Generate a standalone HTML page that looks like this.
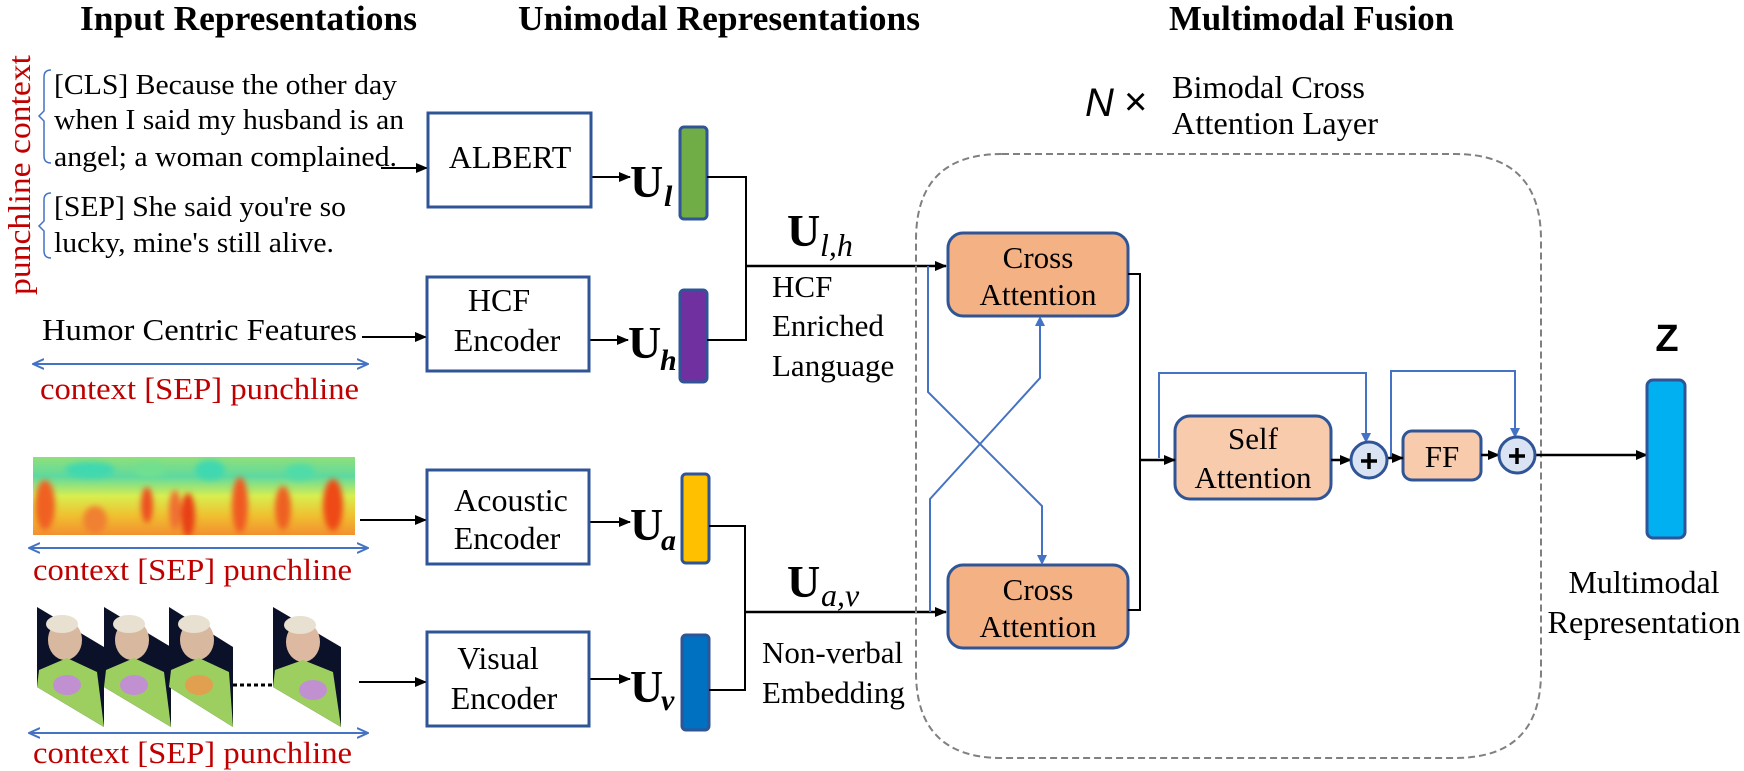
<!DOCTYPE html>
<html><head><meta charset="utf-8"><style>
html,body{margin:0;padding:0;background:#fff;}
svg{display:block;}
text{font-family:"Liberation Serif",serif;fill:#000;}
</style></head><body>
<svg width="1744" height="771" viewBox="0 0 1744 771" xmlns="http://www.w3.org/2000/svg">
<defs>
<marker id="ab" markerWidth="12" markerHeight="10" refX="11" refY="5" orient="auto" markerUnits="userSpaceOnUse"><path d="M0,0 L12,5 L0,10 z" fill="#000"/></marker>
<marker id="au" markerWidth="10" markerHeight="10" refX="9" refY="5" orient="auto" markerUnits="userSpaceOnUse"><path d="M0,0 L10,5 L0,10 z" fill="#4472C4"/></marker>
<marker id="aul" markerWidth="12" markerHeight="12" refX="1" refY="6" orient="auto" markerUnits="userSpaceOnUse"><path d="M12,1 L1,6 L12,11" fill="none" stroke="#4472C4" stroke-width="2"/></marker>
<marker id="aur" markerWidth="12" markerHeight="12" refX="11" refY="6" orient="auto" markerUnits="userSpaceOnUse"><path d="M0,1 L11,6 L0,11" fill="none" stroke="#4472C4" stroke-width="2"/></marker>
<linearGradient id="spec" x1="0" y1="0" x2="0" y2="1">
<stop offset="0" stop-color="#8fe07a"/><stop offset="0.25" stop-color="#5ed9a0"/><stop offset="0.5" stop-color="#d8ee50"/><stop offset="0.75" stop-color="#f0c030"/><stop offset="1" stop-color="#f29030"/></linearGradient>
<filter id="bl"><feGaussianBlur stdDeviation="3"/></filter>
<clipPath id="sc"><rect x="33" y="457" width="322" height="78"/></clipPath>
</defs>

<!-- titles -->
<text x="80" y="30" font-size="35" font-weight="bold" textLength="337" lengthAdjust="spacingAndGlyphs">Input Representations</text>
<text x="518" y="30" font-size="35" font-weight="bold" textLength="402" lengthAdjust="spacingAndGlyphs">Unimodal Representations</text>
<text x="1169" y="30" font-size="35" font-weight="bold" textLength="285" lengthAdjust="spacingAndGlyphs">Multimodal Fusion</text>

<!-- vertical label -->
<text transform="translate(30,295) rotate(-90)" x="0" y="0" font-size="32" fill="#C00000" style="fill:#C00000" textLength="240" lengthAdjust="spacingAndGlyphs">punchline  context</text>

<!-- braces -->
<path d="M51,70 Q44,70 44,77 L44,111 L39,116 L44,121 L44,156 Q44,163 51,163" fill="none" stroke="#4472C4" stroke-width="1.5"/>
<path d="M51,193 Q44,193 44,200 L44,221 L39,226 L44,231 L44,251 Q44,258 51,258" fill="none" stroke="#4472C4" stroke-width="1.5"/>

<g font-size="29">
<text x="54" y="94" textLength="343" lengthAdjust="spacingAndGlyphs">[CLS] Because the other day</text>
<text x="54" y="129" textLength="350" lengthAdjust="spacingAndGlyphs">when I said my husband is an</text>
<text x="54" y="166" textLength="343" lengthAdjust="spacingAndGlyphs">angel; a woman complained.</text>
<text x="54" y="216" textLength="292" lengthAdjust="spacingAndGlyphs">[SEP] She said you're so</text>
<text x="54" y="252" textLength="280" lengthAdjust="spacingAndGlyphs">lucky, mine's still alive.</text>
</g>
<text x="42" y="340" font-size="31" textLength="315" lengthAdjust="spacingAndGlyphs">Humor Centric Features</text>
<line x1="33" y1="364" x2="368" y2="364" stroke="#4472C4" stroke-width="2" marker-start="url(#aul)" marker-end="url(#aur)"/>
<text x="40" y="399" font-size="31" style="fill:#C00000" textLength="319" lengthAdjust="spacingAndGlyphs">context [SEP] punchline</text>

<!-- spectrogram -->
<rect x="33" y="457" width="322" height="78" fill="url(#spec)"/>
<g clip-path="url(#sc)" filter="url(#bl)">
<ellipse cx="45" cy="505" rx="10" ry="25" fill="#f06020"/>
<ellipse cx="95" cy="520" rx="12" ry="14" fill="#f08030"/>
<ellipse cx="147" cy="505" rx="6" ry="18" fill="#ee5020"/>
<ellipse cx="175" cy="510" rx="6" ry="20" fill="#f07030"/>
<ellipse cx="188" cy="515" rx="7" ry="22" fill="#e84018"/>
<ellipse cx="240" cy="505" rx="8" ry="28" fill="#f05a20"/>
<ellipse cx="283" cy="508" rx="8" ry="22" fill="#ee6020"/>
<ellipse cx="333" cy="505" rx="10" ry="26" fill="#ee4a18"/>
<ellipse cx="90" cy="470" rx="25" ry="8" fill="#40d8b0"/>
<ellipse cx="210" cy="470" rx="15" ry="10" fill="#40d8b0"/>
<ellipse cx="300" cy="472" rx="15" ry="8" fill="#50dca8"/>
<ellipse cx="150" cy="470" rx="15" ry="8" fill="#70e090"/>
</g>
<line x1="29" y1="548" x2="368" y2="548" stroke="#4472C4" stroke-width="2" marker-start="url(#aul)" marker-end="url(#aur)"/>
<text x="33" y="580" font-size="31" style="fill:#C00000" textLength="319" lengthAdjust="spacingAndGlyphs">context [SEP] punchline</text>

<!-- video frames -->
<g>
<g transform="translate(37,0)">
<polygon points="0,607 67,647 67,727 0,687" fill="#0b1128"/>
<ellipse cx="28" cy="640" rx="17" ry="20" fill="#d9b8a0"/>
<ellipse cx="25" cy="624" rx="16" ry="9" fill="#e8e0d0"/>
<polygon points="2,670 30,658 60,672 67,727 0,687" fill="#9ccf60"/>
<ellipse cx="30" cy="685" rx="14" ry="10" fill="#c090d0"/>
</g>
<g transform="translate(104,0)">
<polygon points="0,607 67,647 67,727 0,687" fill="#0b1128"/>
<ellipse cx="28" cy="640" rx="17" ry="20" fill="#d9b8a0"/>
<ellipse cx="25" cy="624" rx="16" ry="9" fill="#e8e0d0"/>
<polygon points="2,670 30,658 60,672 67,727 0,687" fill="#9ccf60"/>
<ellipse cx="30" cy="685" rx="14" ry="10" fill="#c090d0"/>
</g>
<g transform="translate(169,0)">
<polygon points="0,607 64,647 64,727 0,687" fill="#0b1128"/>
<ellipse cx="28" cy="640" rx="17" ry="20" fill="#d9b8a0"/>
<ellipse cx="25" cy="624" rx="16" ry="9" fill="#e8e0d0"/>
<polygon points="2,670 30,658 60,672 64,727 0,687" fill="#9ccf60"/>
<ellipse cx="30" cy="685" rx="14" ry="10" fill="#e0a050"/>
</g>
<g transform="translate(273,0)">
<polygon points="0,607 68,647 68,727 0,687" fill="#0b1128"/>
<ellipse cx="30" cy="642" rx="17" ry="20" fill="#dcb9a0"/>
<ellipse cx="27" cy="625" rx="16" ry="9" fill="#e8e0d0"/>
<polygon points="2,670 30,660 60,672 68,727 0,687" fill="#9ccf60"/>
<ellipse cx="40" cy="690" rx="14" ry="10" fill="#c090d0"/>
</g>
<line x1="233" y1="685" x2="273" y2="685" stroke="#000" stroke-width="3" stroke-dasharray="4,3"/>
</g>
<line x1="29" y1="733" x2="368" y2="733" stroke="#4472C4" stroke-width="2" marker-start="url(#aul)" marker-end="url(#aur)"/>
<text x="33" y="763" font-size="31" style="fill:#C00000" textLength="319" lengthAdjust="spacingAndGlyphs">context [SEP] punchline</text>

<!-- input arrows -->
<g stroke="#000" stroke-width="2" marker-end="url(#ab)">
<line x1="381" y1="168" x2="427" y2="168"/>
<line x1="362" y1="337" x2="426" y2="337"/>
<line x1="360" y1="520" x2="426" y2="520"/>
<line x1="359" y1="682" x2="426" y2="682"/>
<line x1="591" y1="177" x2="630" y2="177"/>
<line x1="589" y1="340" x2="628" y2="340"/>
<line x1="589" y1="522" x2="630" y2="522"/>
<line x1="589" y1="679" x2="630" y2="679"/>
</g>

<!-- encoder boxes -->
<g fill="#fff" stroke="#2F5597" stroke-width="3">
<rect x="428" y="113" width="163" height="94"/>
<rect x="427" y="277" width="162" height="94"/>
<rect x="427" y="470" width="162" height="94"/>
<rect x="427" y="632" width="162" height="94"/>
</g>
<g font-size="32" text-anchor="middle">
<text x="510" y="168">ALBERT</text>
<text x="499" y="311">HCF</text>
<text x="507" y="351">Encoder</text>
<text x="511" y="511">Acoustic</text>
<text x="507" y="549">Encoder</text>
<text x="498" y="669">Visual</text>
<text x="504" y="709">Encoder</text>
</g>

<!-- U labels -->
<g font-size="46" font-weight="bold">
<text x="630" y="197">U</text>
<text x="628" y="358">U</text>
<text x="630" y="540">U</text>
<text x="630" y="702">U</text>
</g>
<g font-size="30" font-weight="bold" font-style="italic">
<text x="664" y="206">l</text>
<text x="660" y="370">h</text>
<text x="661" y="550">a</text>
<text x="661" y="710">v</text>
</g>

<!-- bars -->
<g stroke="#2F5597" stroke-width="3">
<rect x="680" y="127" width="27" height="92" rx="4" fill="#70AD47"/>
<rect x="680" y="290" width="27" height="92" rx="4" fill="#7030A0"/>
<rect x="682" y="474" width="27" height="89" rx="4" fill="#FFC000"/>
<rect x="682" y="635" width="27" height="95" rx="4" fill="#0070C0"/>
</g>

<!-- merge lines -->
<g fill="none" stroke="#000" stroke-width="2">
<polyline points="707,177 746,177 746,340 707,340"/>
<polyline points="709,526 745,526 745,690 709,690"/>
</g>
<line x1="746" y1="266" x2="946" y2="266" stroke="#000" stroke-width="2.5" marker-end="url(#ab)"/>
<line x1="745" y1="612" x2="946" y2="612" stroke="#000" stroke-width="2.5" marker-end="url(#ab)"/>

<text x="787" y="246" font-size="46" font-weight="bold">U</text>
<text x="820" y="256" font-size="32" font-style="italic">l,h</text>
<text x="787" y="597" font-size="46" font-weight="bold">U</text>
<text x="821" y="606" font-size="32" font-style="italic">a,v</text>
<g font-size="31">
<text x="772" y="297">HCF</text>
<text x="772" y="336">Enriched</text>
<text x="772" y="376">Language</text>
<text x="762" y="663">Non-verbal</text>
<text x="762" y="703">Embedding</text>
</g>

<!-- dashed container -->
<path d="M1002,154 L1455,154 Q1541,154 1541,240 L1541,672 Q1541,758 1455,758 L1002,758 Q916,758 916,672 L916,240 Q916,154 1002,154 Z" fill="none" stroke="#808080" stroke-width="2" stroke-dasharray="7,4"/>

<text x="1085" y="116" font-size="40" font-style="italic" font-family="Liberation Sans, sans-serif" style="font-family:'Liberation Sans',sans-serif">N</text>
<text x="1124" y="115" font-size="40" font-family="Liberation Sans, sans-serif" style="font-family:'Liberation Sans',sans-serif">×</text>
<text x="1172" y="98" font-size="32" textLength="193" lengthAdjust="spacingAndGlyphs">Bimodal Cross</text>
<text x="1172" y="134" font-size="32" textLength="206" lengthAdjust="spacingAndGlyphs">Attention Layer</text>

<!-- cross attention boxes -->
<g stroke="#2F5597" stroke-width="3">
<rect x="948" y="233" width="180" height="83" rx="15" fill="#F4B183"/>
<rect x="948" y="565" width="180" height="83" rx="15" fill="#F4B183"/>
<rect x="1175" y="416" width="156" height="83" rx="15" fill="#F8CBAD"/>
<rect x="1403" y="431" width="78" height="49" rx="9" fill="#F8CBAD"/>
</g>
<g font-size="31" text-anchor="middle">
<text x="1038" y="268">Cross</text>
<text x="1038" y="305">Attention</text>
<text x="1038" y="600">Cross</text>
<text x="1038" y="637">Attention</text>
<text x="1253" y="449">Self</text>
<text x="1253" y="488">Attention</text>
<text x="1442" y="467">FF</text>
</g>

<!-- cross blue lines -->
<g fill="none" stroke="#4472C4" stroke-width="2" marker-end="url(#au)">
<polyline points="928,266 928,392 1042,506 1042,564"/>
<polyline points="930,612 930,499 1040,378 1040,317"/>
</g>

<!-- cross outputs -->
<polyline points="1128,274 1140,274 1140,610 1128,610" fill="none" stroke="#000" stroke-width="2"/>
<line x1="1140" y1="460" x2="1175" y2="460" stroke="#000" stroke-width="2.5" marker-end="url(#ab)"/>

<!-- skips -->
<g fill="none" stroke="#4472C4" stroke-width="2" marker-end="url(#au)">
<polyline points="1159,458 1159,373 1366,373 1366,442"/>
<polyline points="1391,457 1391,371 1515,371 1515,437"/>
</g>
<g stroke="#000" stroke-width="2.5" marker-end="url(#ab)">
<line x1="1331" y1="460" x2="1351" y2="460"/>
<line x1="1387" y1="458" x2="1403" y2="458"/>
<line x1="1481" y1="455" x2="1499" y2="455"/>
<line x1="1535" y1="455" x2="1647" y2="455"/>
</g>
<g stroke="#2F5597" stroke-width="3" fill="#DAE3F3">
<circle cx="1369" cy="460" r="18"/>
<circle cx="1517" cy="455" r="18"/>
</g>
<g stroke="#000" stroke-width="3.5">
<line x1="1361" y1="461" x2="1377" y2="461"/><line x1="1369" y1="453" x2="1369" y2="469"/>
<line x1="1509" y1="456" x2="1525" y2="456"/><line x1="1517" y1="448" x2="1517" y2="464"/>
</g>

<!-- output -->
<rect x="1647" y="380" width="38" height="158" rx="6" fill="#00B0F0" stroke="#2F5597" stroke-width="3"/>
<text x="1667" y="351" font-size="38" font-weight="bold" text-anchor="middle" style="font-family:'Liberation Sans',sans-serif">Z</text>
<text x="1644" y="593" font-size="32" text-anchor="middle">Multimodal</text>
<text x="1644" y="633" font-size="32" text-anchor="middle" textLength="193" lengthAdjust="spacingAndGlyphs">Representation</text>
</svg>
</body></html>
